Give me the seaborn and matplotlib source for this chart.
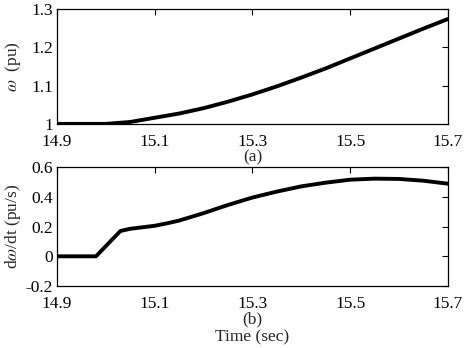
import matplotlib
matplotlib.use("Agg")
import matplotlib.pyplot as plt
import seaborn as sns
import pandas as pd

# Data
t_w = [14.9, 14.95, 15.0, 15.05, 15.1, 15.15, 15.2, 15.25, 15.3, 15.35, 15.4, 15.45, 15.5, 15.55, 15.6, 15.65, 15.7]
w = [1.0, 1.0, 1.0, 1.005, 1.016, 1.027, 1.041, 1.058, 1.077, 1.098, 1.121, 1.145, 1.171, 1.197, 1.223, 1.249, 1.274]

t_dw = [14.9, 14.98, 15.03, 15.05, 15.1, 15.13, 15.15, 15.2, 15.25, 15.3, 15.35, 15.4, 15.45, 15.5, 15.55, 15.6, 15.65, 15.7]
dw = [0.0, 0.0, 0.17, 0.185, 0.205, 0.225, 0.24, 0.29, 0.345, 0.395, 0.435, 0.47, 0.495, 0.515, 0.522, 0.52, 0.508, 0.488]

x_ticks = [14.9, 15.1, 15.3, 15.5, 15.7]
x_labels = ["14.9", "15.1", "15.3", "15.5", "15.7"]
w_ticks = [1.0, 1.1, 1.2, 1.3]
w_labels = ["1", "1.1", "1.2", "1.3"]
dw_ticks = [-0.2, 0.0, 0.2, 0.4, 0.6]
dw_labels = ["-0.2", "0", "0.2", "0.4", "0.6"]

sns.set_style("white")
plt.rcParams['font.family'] = ['Liberation Serif', 'DejaVu Serif']
plt.rcParams['mathtext.fontset'] = 'stix'

fig = plt.figure(figsize=(4.74, 3.48), dpi=100)
ax1 = fig.add_axes([0.120, 0.644, 0.825, 0.330])
ax2 = fig.add_axes([0.120, 0.178, 0.825, 0.342])

df1 = pd.DataFrame({"t": t_w, "w": w})
df2 = pd.DataFrame({"t": t_dw, "dw": dw})
sns.lineplot(data=df1, x="t", y="w", ax=ax1, color="black", linewidth=2.8)
sns.lineplot(data=df2, x="t", y="dw", ax=ax2, color="black", linewidth=2.8)

for ax, yt, yl, ylim in [(ax1, w_ticks, w_labels, (1.0, 1.3)), (ax2, dw_ticks, dw_labels, (-0.2, 0.6))]:
    ax.set_xlim(14.9, 15.7)
    ax.set_ylim(*ylim)
    ax.set_xticks(x_ticks)
    ax.set_xticklabels(x_labels)
    ax.set_yticks(yt)
    ax.set_yticklabels(yl)
    ax.tick_params(direction="in", length=4, width=0.8, top=True, right=True,
                   labelsize=12.5, colors="black")
    ax.tick_params(axis="x", pad=7)
    ax.tick_params(axis="y", pad=3)
    for s in ax.spines.values():
        s.set_color("black")
        s.set_linewidth(0.9)
        s.set_visible(True)
    ax.set_xlabel("")

ax1.set_ylabel(r"$\omega$  (pu)", fontsize=12.5, labelpad=6)
ax2.set_ylabel(r"d$\omega$/dt (pu/s)", fontsize=12.5, labelpad=2)
ax1.set_xlabel("(a)", fontsize=12.5, labelpad=0)
ax2.set_xlabel("(b)\nTime (sec)", fontsize=12.5, labelpad=0, linespacing=1.1)

fig.savefig("out.png", dpi=100)
